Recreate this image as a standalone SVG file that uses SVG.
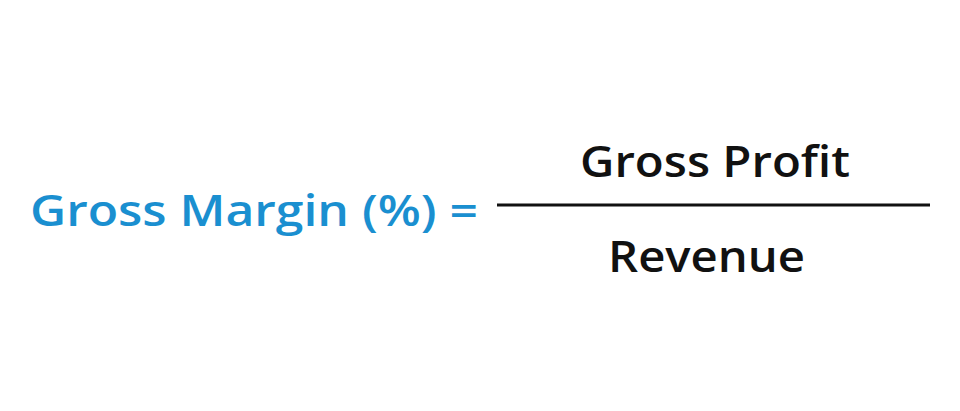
<svg xmlns="http://www.w3.org/2000/svg" width="960" height="411" viewBox="0 0 960 411">
<style>
.t{font-family:"Open Sans","Noto Sans",sans-serif;font-weight:600;font-size:43px}
</style>
<rect width="960" height="411" fill="#fff"/>
<g id="lhs"><text class="t" x="30" y="226" fill="#1a8fd0" textLength="448" lengthAdjust="spacingAndGlyphs">Gross Margin (%) =</text></g>
<g id="numerator"><text class="t" x="580" y="177" fill="#111" textLength="270" lengthAdjust="spacingAndGlyphs">Gross Profit</text></g>
<g id="connectors"><line x1="497" y1="205" x2="930" y2="205" stroke="#111" stroke-width="3"/></g>
<g id="denominator"><text class="t" x="608" y="272" fill="#111" textLength="197" lengthAdjust="spacingAndGlyphs">Revenue</text></g>
</svg>
